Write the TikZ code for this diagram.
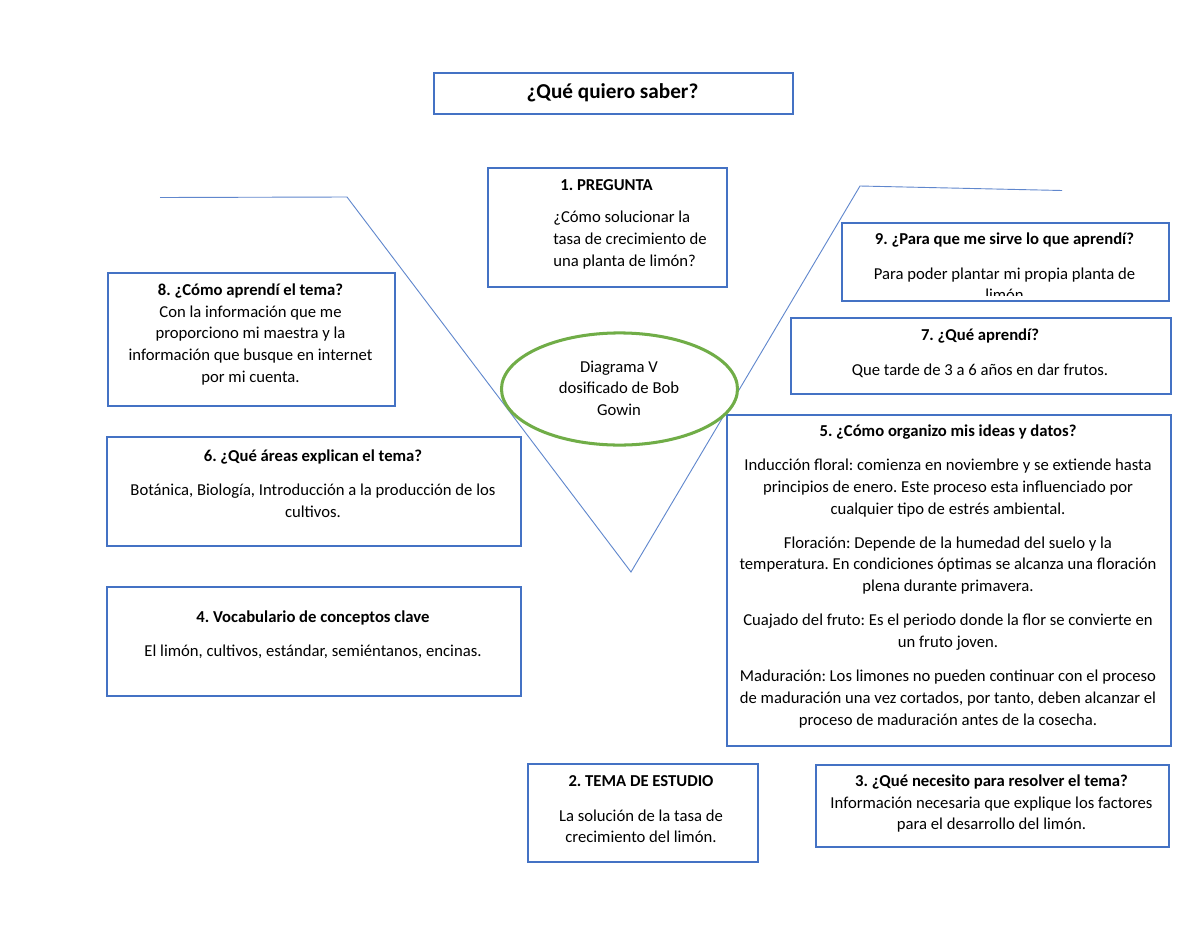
\documentclass[tikz,border=0pt]{standalone}
\usepackage{fontspec}
\setmainfont{Carlito}
\usetikzlibrary{shapes.geometric}
\frenchspacing
\definecolor{boxblue}{HTML}{4472C4}
\definecolor{vgreen}{HTML}{70AD47}
\tikzset{
  boxst/.style={draw=boxblue, line width=1.4pt, fill=white, inner sep=0pt, anchor=north west},
  txt/.style={inner sep=0pt, align=center, anchor=north, font=\fontsize{11}{14.3}\selectfont},
  vline/.style={draw=boxblue!85, line width=0.6pt},
  ellst/.style={draw=vgreen, line width=2pt, fill=white, ellipse, inner sep=0pt},
}
\begin{document}
\frenchspacing
\begin{tikzpicture}[x=0.66pt,y=-0.66pt]
\useasboundingbox[fill=white] (0,0) rectangle (1200,927);

% V lines
\coordinate (vl0) at (160,197.5);
\coordinate (vl1) at (347,197);
\coordinate (vb) at (631,572);
\coordinate (vr1) at (860,186);
\coordinate (vr0) at (1062,190.5);
\draw[vline] (vl0) -- (vl1) -- (vb) -- (vr1) -- (vr0);

% title
\node[boxst, minimum width=236.9pt, minimum height=27.1pt] (title) at (433,72) {};
\node[inner sep=0pt, font=\fontsize{14}{17}\selectfont\bfseries] (titletxt) at (612.5,92.5) {¿Qué quiero saber?};

% box 1
\node[boxst, minimum width=157.7pt, minimum height=78.5pt] (b1) at (487,167) {};
\node[txt] (t1) at (606.5,175) {\strut\textbf{1. PREGUNTA}};
\node[txt, align=left, anchor=north west] (t1b) at (553,207.5) {\strut¿Cómo solucionar la\\tasa de crecimiento de\\una planta de limón?};

% box 8
\node[boxst, minimum width=189.4pt, minimum height=87.8pt] (b8) at (107,272) {};
\node[txt] (t8) at (250.5,280) {\strut\textbf{8. ¿Cómo aprendí el tema?}\\Con la información que me\\proporciono mi maestra y la\\información que busque en internet\\por mi cuenta.};

% box 9
\node[boxst, minimum width=215.8pt, minimum height=51.5pt] (b9) at (841,222) {};
\begin{scope}
\clip (842,223) rectangle (1167,295);
\node[txt] (t9) at (1004.5,229.5) {\strut\textbf{9. ¿Para que me sirve lo que aprendí?}\\[8.3pt]Para poder plantar mi propia planta de\\limón};
\end{scope}

% box 7
\node[boxst, minimum width=250.8pt, minimum height=50.2pt] (b7) at (790,317) {};
\node[txt] (t7) at (980,325.5) {\strut\textbf{7. ¿Qué aprendí?}\\[8.3pt]Que tarde de 3 a 6 años en dar frutos.};

% box 5
\node[boxst, minimum width=293pt, minimum height=218.5pt] (b5) at (726,414) {};
\node[txt] (t5) at (948,421) {\strut\textbf{5. ¿Cómo organizo mis ideas y datos?}\\[8.3pt]
Inducción floral: comienza en noviembre y se extiende hasta\\
principios de enero. Este proceso esta influenciado por\\
cualquier tipo de estrés ambiental.\\[8.3pt]
Floración: Depende de la humedad del suelo y la\\
temperatura. En condiciones óptimas se alcanza una floración\\
plena durante primavera.\\[8.3pt]
Cuajado del fruto: Es el periodo donde la flor se convierte en\\
un fruto joven.\\[8.3pt]
Maduración: Los limones no pueden continuar con el proceso\\
de maduración una vez cortados, por tanto, deben alcanzar el\\
proceso de maduración antes de la cosecha.};

% box 6
\node[boxst, minimum width=273.2pt, minimum height=71.9pt] (b6) at (106,436) {};
\node[txt] (t6) at (313,446) {\strut\textbf{6. ¿Qué áreas explican el tema?}\\[8.3pt]Botánica, Biología, Introducción a la producción de los\\cultivos.};

% box 4
\node[boxst, minimum width=273.2pt, minimum height=71.9pt] (b4) at (106,586) {};
\node[txt] (t4) at (313,607) {\strut\textbf{4. Vocabulario de conceptos clave}\\[8.3pt]El limón, cultivos, estándar, semiéntanos, encinas.};

% box 2
\node[boxst, minimum width=151.8pt, minimum height=64.7pt] (b2) at (527,763) {};
\node[txt] (t2) at (641,771.5) {\strut\textbf{2. TEMA DE ESTUDIO}\\[8.3pt]La solución de la tasa de\\crecimiento del limón.};

% box 3
\node[boxst, minimum width=233pt, minimum height=54.1pt] (b3) at (815,764) {};
\node[txt] (t3) at (991.5,771) {\strut\textbf{3. ¿Qué necesito para resolver el tema?}\\Información necesaria que explique los factores\\para el desarrollo del limón.};

% ellipse
\node[ellst, minimum width=155.8pt, minimum height=74pt] (ell) at (619.5,389) {};
\node[txt] (te) at (619,356.7) {\strut Diagrama V\\dosificado de Bob\\Gowin};
\end{tikzpicture}
\end{document}
